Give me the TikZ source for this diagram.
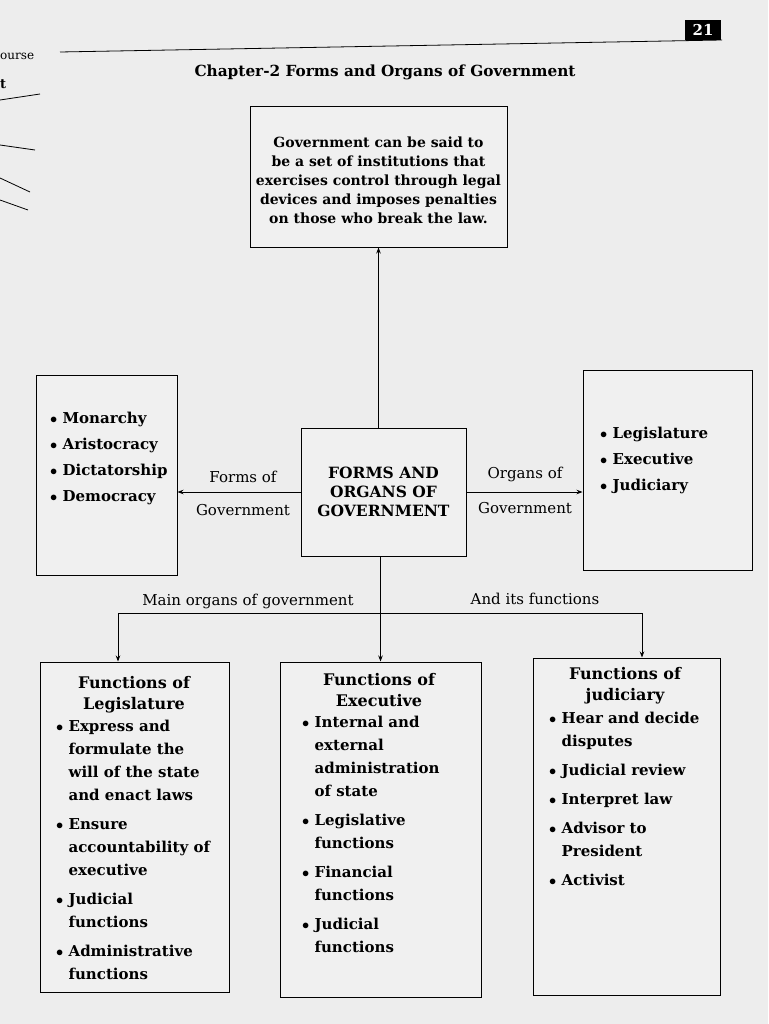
\documentclass[tikz,border=0pt]{standalone}
\usepackage{fontspec}
\setmainfont{DejaVu Serif}
\usetikzlibrary{arrows.meta}
\begin{document}
\begin{tikzpicture}[x=1pt,y=-1pt,
  box/.style={draw,line width=1pt,fill=black!6},
  txt/.style={font=\fontsize{15}{23}\selectfont\bfseries,align=left,anchor=north west,inner sep=0pt},
  hd/.style={font=\fontsize{16}{21}\selectfont\bfseries,align=center,anchor=north,inner sep=0pt},
  lbl/.style={font=\fontsize{15}{20}\selectfont,inner sep=0pt},
  arr/.style={-{Stealth[length=6pt]},line width=0.8pt},
  ln/.style={line width=0.8pt}]
\useasboundingbox (0,0) rectangle (768,1024);
\fill[white!93!black] (0,0) rectangle (768,1024);
% page header
\node[fill=black,text=white,font=\fontsize{15}{15}\selectfont\bfseries,minimum width=36,minimum height=20,inner sep=0pt] (pg) at (703,30) {21};
\coordinate (hl) at (60,52); \coordinate (hr) at (722,40);
\draw[ln] (hl) -- (hr);
\node[lbl,font=\fontsize{15.3}{16}\selectfont\bfseries] (title) at (385,72) {Chapter-2 Forms and Organs of Government};
\node[lbl,anchor=west,font=\fontsize{12}{12}\selectfont] (crs) at (0,56) {ourse};
\node[lbl,anchor=west,font=\fontsize{13}{13}\selectfont\bfseries] (tt) at (0,84) {t};
\draw[ln] (0,100) -- (40,94) (0,145) -- (35,150) (0,178) -- (30,192) (0,200) -- (28,210);
% boxes
\node[box,minimum width=257,minimum height=140,inner sep=0pt] (top) at (378.5,177) {};
\node[lbl,font=\fontsize{14}{19}\selectfont\bfseries,align=center] (toptxt) at (378.5,180) {Government can be said to\\be a set of institutions that\\exercises control through legal\\devices and imposes penalties\\on those who break the law.};
\node[box,minimum width=165,minimum height=128,inner sep=0pt,
  font=\fontsize{15.5}{19}\selectfont\bfseries,align=center] (ctr) at (383.5,492) {FORMS AND\\ORGANS OF\\GOVERNMENT};
\node[box,minimum width=141,minimum height=200,inner sep=0pt] (lft) at (106.5,475) {};
\node[txt,font=\fontsize{15}{26}\selectfont\bfseries] (lfttxt) at (50,412) {$\bullet$ Monarchy\\$\bullet$ Aristocracy\\$\bullet$ Dictatorship\\$\bullet$ Democracy};
\node[box,minimum width=169,minimum height=200,inner sep=0pt] (rgt) at (667.5,470) {};
\node[txt,font=\fontsize{15}{26}\selectfont\bfseries] (rgttxt) at (600,427) {$\bullet$ Legislature\\$\bullet$ Executive\\$\bullet$ Judiciary};
% arrows
\draw[arr] (top.south |- ctr.north) -- (top.south);
\draw[arr] (ctr.west) -- (ctr.west -| lft.east);
\draw[arr] (ctr.east) -- (ctr.east -| rgt.west);
\node[lbl] (f1) at (243,477) {Forms of};
\node[lbl] (f2) at (243,510) {Government};
\node[lbl] (o1) at (525,474) {Organs of};
\node[lbl] (o2) at (525,508) {Government};
% bottom boxes
\node[box,minimum width=189,minimum height=330,inner sep=0pt] (leg) at (134.5,827) {};
\node[box,minimum width=201,minimum height=335,inner sep=0pt] (exe) at (380.5,829.5) {};
\node[box,minimum width=187,minimum height=337,inner sep=0pt] (jud) at (626.5,826.5) {};
\coordinate (jl) at (118,613); \coordinate (jr) at (642,613);
\draw[ln] (jl) -- (jr);
\draw[arr] (jl) -- (leg.north -| jl);
\draw[arr] (jr) -- (jud.north -| jr);
\draw[arr] (exe.north |- ctr.south) -- (exe.north);
\node[lbl] (m1) at (248,601) {Main organs of government};
\node[lbl] (m2) at (535,599) {And its functions};
\node[hd] (legh) at (134,676) {Functions of\\Legislature};
\node[txt] (legt) at (56,720) {$\bullet$ Express and\\\phantom{$\bullet$} formulate the\\\phantom{$\bullet$} will of the state\\\phantom{$\bullet$} and enact laws\\[6pt]$\bullet$ Ensure\\\phantom{$\bullet$} accountability of\\\phantom{$\bullet$} executive\\[6pt]$\bullet$ Judicial\\\phantom{$\bullet$} functions\\[6pt]$\bullet$ Administrative\\\phantom{$\bullet$} functions};
\node[hd] (exeh) at (379,673) {Functions of\\Executive};
\node[txt] (exet) at (302,716) {$\bullet$ Internal and\\\phantom{$\bullet$} external\\\phantom{$\bullet$} administration\\\phantom{$\bullet$} of state\\[6pt]$\bullet$ Legislative\\\phantom{$\bullet$} functions\\[6pt]$\bullet$ Financial\\\phantom{$\bullet$} functions\\[6pt]$\bullet$ Judicial\\\phantom{$\bullet$} functions};
\node[hd] (judh) at (625,667) {Functions of\\judiciary};
\node[txt] (judt) at (549,712) {$\bullet$ Hear and decide\\\phantom{$\bullet$} disputes\\[6pt]$\bullet$ Judicial review\\[6pt]$\bullet$ Interpret law\\[6pt]$\bullet$ Advisor to\\\phantom{$\bullet$} President\\[6pt]$\bullet$ Activist};
\end{tikzpicture}
\end{document}
